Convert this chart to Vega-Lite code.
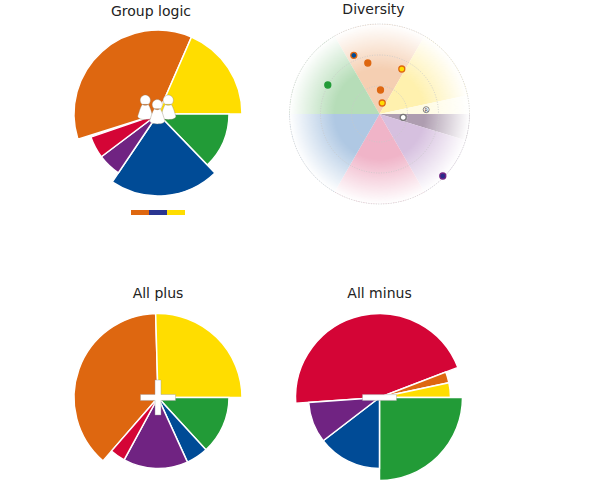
{
"$schema":"https://vega.github.io/schema/vega-lite/v6.json",
"background":"white",
"padding":{"left":68,"top":3,"right":0,"bottom":0},
"columns":2,
"spacing":{"column":39.5,"row":71.5},
"config":{"view":{"stroke":null},"title":{"font":"DejaVu Sans","fontSize":14,"fontWeight":"normal","color":"#222222","offset":5,"anchor":"middle"},"text":{"font":"DejaVu Sans"}},
"datasets":{
"logic":[
{"group":"Orange","start":252.5,"end":383.5,"r":84},
{"group":"Yellow","start":23.5,"end":90,"r":84},
{"group":"Green","start":90,"end":136,"r":71},
{"group":"Blue","start":136,"end":214,"r":82},
{"group":"Purple","start":214,"end":233,"r":71},
{"group":"Red","start":233,"end":251,"r":71}],
"plus":[
{"group":"Orange","start":221,"end":358.4,"r":84},
{"group":"Yellow","start":358.4,"end":450,"r":84},
{"group":"Green","start":90,"end":137.5,"r":71},
{"group":"Blue","start":137.5,"end":155.5,"r":71},
{"group":"Purple","start":155.5,"end":208.5,"r":71},
{"group":"Red","start":208.5,"end":221,"r":71}],
"minus":[
{"group":"Red","start":266,"end":429,"r":84},
{"group":"Orange","start":69,"end":78,"r":71},
{"group":"Yellow","start":78,"end":90,"r":71},
{"group":"Green","start":90,"end":180,"r":83},
{"group":"Blue","start":180,"end":232.5,"r":71},
{"group":"Purple","start":232.5,"end":266,"r":71}],
"sectors":[
{"group":"Orange","start":330,"end":390},
{"group":"Yellow","start":30,"end":78},
{"group":"Pale","start":78,"end":90},
{"group":"Grey","start":90,"end":107},
{"group":"Purple","start":107,"end":150},
{"group":"Red","start":150,"end":210},
{"group":"Blue","start":210,"end":270},
{"group":"Green","start":270,"end":330}],
"dots":[
{"name":"a","fill":"Blue","line":"Orange","x":-25.7,"y":58.7},
{"name":"b","fill":"Orange","line":"Orange","x":-11.7,"y":51},
{"name":"c","fill":"Yellow","line":"Orange","x":22.3,"y":45},
{"name":"d","fill":"Orange","line":"Orange","x":1,"y":24},
{"name":"e","fill":"Yellow","line":"Orange","x":2.7,"y":11},
{"name":"f","fill":"Green","line":"Green","x":-51.7,"y":29},
{"name":"g","fill":"White","line":"Grey","x":23.7,"y":-3.3},
{"name":"h","fill":"Navy","line":"Purple","x":63.3,"y":-62}]
},
"concat":[
{"title":{"text":"Group logic","dx":-7},"width":180,"height":180,
"resolve":{"scale":{"color":"independent"}},
"layer":[
{"data":{"name":"logic"},"mark":{"type":"arc","stroke":"white","strokeWidth":1.5},
"encoding":{
"theta":{"field":"start","type":"quantitative","stack":null,"scale":{"domain":[0,360],"range":[0,6.2832]}},
"theta2":{"field":"end"},
"radius":{"field":"r","type":"quantitative","scale":{"type":"linear","domain":[0,90],"range":[0,90]}},
"color":{"field":"group","type":"nominal","legend":null,"scale":{"domain":["Orange","Yellow","Green","Blue","Purple","Red"],"range":["#DE6710","#FFDD00","#229B37","#004B96","#702382","#D40536"]}}}},
{"data":{"values":[{"seg":"Orange","from":-27,"to":-9,"low":-96,"high":-101},{"seg":"Navy","from":-9,"to":9,"low":-96,"high":-101},{"seg":"Yellow","from":9,"to":27,"low":-96,"high":-101}]},
"mark":{"type":"rect"},
"encoding":{
"x":{"field":"from","type":"quantitative","axis":null,"scale":{"domain":[-90,90]}},
"x2":{"field":"to"},
"y":{"field":"low","type":"quantitative","axis":null,"scale":{"domain":[-90,90]}},
"y2":{"field":"high"},
"color":{"field":"seg","type":"nominal","legend":null,"scale":{"domain":["Orange","Navy","Yellow"],"range":["#DE6710","#2A3590","#FFDD00"]}}}},
{"data":{"values":[{"who":"left","x":-12.7,"y":6.7},{"who":"right","x":10.3,"y":6.7},{"who":"centre","x":-0.7,"y":2.3}]},
"mark":{"type":"point","filled":true,"fill":"white","stroke":"#8a7a66","strokeWidth":0.6,"strokeOpacity":0.6,"opacity":1,"size":600,"shape":"M0,-1 A0.42,0.42 0 1 1 0,-0.16 A0.42,0.42 0 1 1 0,-1 Z M-0.24,-0.24 C-0.42,0 -0.5,0.4 -0.62,0.72 C-0.62,0.9 -0.4,1 0,1 C0.4,1 0.62,0.9 0.62,0.72 C0.5,0.4 0.42,0 0.24,-0.24 Z"},
"encoding":{
"x":{"field":"x","type":"quantitative","axis":null,"scale":{"domain":[-90,90]}},
"y":{"field":"y","type":"quantitative","axis":null,"scale":{"domain":[-90,90]}}}}
]},
{"title":{"text":"Diversity","dx":-6},"width":180,"height":180,
"resolve":{"scale":{"color":"independent","fill":"independent","stroke":"independent"}},
"layer":[
{"data":{"name":"sectors"},"mark":{"type":"arc"},
"encoding":{
"theta":{"field":"start","type":"quantitative","stack":null,"scale":{"domain":[0,360],"range":[0,6.2832]}},
"theta2":{"field":"end"},
"radius":{"datum":90,"type":"quantitative","scale":{"type":"linear","domain":[0,90],"range":[0,90]}},
"color":{"field":"group","type":"nominal","legend":null,"scale":{"domain":["Orange","Yellow","Pale","Grey","Purple","Red","Blue","Green"],"range":["#F5CFB2","#FFF1AE","#FFFBE2","#AE9DB0","#D6C0DF","#F0B4C8","#AFC8E3","#B6DDB8"]}}}},
{"data":{"values":[{"ring":"fade","start":0,"end":360}]},
"mark":{"type":"arc","fill":{"gradient":"radial","x1":0.5,"y1":0.5,"r1":0,"x2":0.5,"y2":0.5,"r2":0.5,"stops":[{"offset":0,"color":"rgba(255,255,255,0)"},{"offset":0.5,"color":"rgba(255,255,255,0)"},{"offset":1,"color":"rgba(255,255,255,1)"}]}},
"encoding":{
"theta":{"field":"start","type":"quantitative","stack":null,"scale":{"domain":[0,360],"range":[0,6.2832]}},
"theta2":{"field":"end"},
"radius":{"datum":90,"type":"quantitative","scale":{"type":"linear","domain":[0,90],"range":[0,90]}}}},
{"data":{"values":[{"r":28,"start":0,"end":360},{"r":59,"start":0,"end":360},{"r":90,"start":0,"end":360}]},
"mark":{"type":"arc","fillOpacity":0,"stroke":"#C8C8C8","strokeWidth":0.8,"strokeDash":[1,1.5]},
"encoding":{
"theta":{"field":"start","type":"quantitative","stack":null,"scale":{"domain":[0,360],"range":[0,6.2832]}},
"theta2":{"field":"end"},
"radius":{"field":"r","type":"quantitative","scale":{"type":"linear","domain":[0,90],"range":[0,90]}}}},
{"data":{"name":"dots"},"mark":{"type":"point","filled":true,"shape":"circle","size":36,"strokeWidth":1.3,"opacity":1},
"encoding":{
"x":{"field":"x","type":"quantitative","axis":null,"scale":{"domain":[-90,90]}},
"y":{"field":"y","type":"quantitative","axis":null,"scale":{"domain":[-90,90]}},
"fill":{"field":"fill","type":"nominal","legend":null,"scale":{"domain":["Orange","Yellow","Blue","Green","White","Navy"],"range":["#DE6710","#FFDD00","#004B96","#229B37","#FFFFFF","#2A2A8A"]}},
"stroke":{"field":"line","type":"nominal","legend":null,"scale":{"domain":["Orange","Green","Grey","Purple"],"range":["#DE6710","#229B37","#777777","#702382"]}}}},
{"data":{"values":[{"x":46.7,"y":4.3,"mark":"R"}]},"mark":{"type":"point","filled":true,"fill":"white","stroke":"#666666","strokeWidth":0.8,"shape":"circle","size":36,"opacity":1},
"encoding":{
"x":{"field":"x","type":"quantitative","axis":null,"scale":{"domain":[-90,90]}},
"y":{"field":"y","type":"quantitative","axis":null,"scale":{"domain":[-90,90]}}}},
{"data":{"values":[{"x":46.7,"y":4.3,"mark":"R"}]},"mark":{"type":"text","fontSize":5,"color":"#444444","align":"center","baseline":"middle"},
"encoding":{
"x":{"field":"x","type":"quantitative","axis":null,"scale":{"domain":[-90,90]}},
"y":{"field":"y","type":"quantitative","axis":null,"scale":{"domain":[-90,90]}},
"text":{"field":"mark"}}}
]},
{"title":{"text":"All plus","offset":7},"width":180,"height":180,
"layer":[
{"data":{"name":"plus"},"mark":{"type":"arc","stroke":"white","strokeWidth":1.5},
"encoding":{
"theta":{"field":"start","type":"quantitative","stack":null,"scale":{"domain":[0,360],"range":[0,6.2832]}},
"theta2":{"field":"end"},
"radius":{"field":"r","type":"quantitative","scale":{"type":"linear","domain":[0,90],"range":[0,90]}},
"color":{"field":"group","type":"nominal","legend":null,"scale":{"domain":["Orange","Yellow","Green","Blue","Purple","Red"],"range":["#DE6710","#FFDD00","#229B37","#004B96","#702382","#D40536"]}}}},
{"data":{"values":[{"sign":"plus","x":0,"y":0}]},
"mark":{"type":"point","filled":true,"fill":"white","stroke":"#999999","strokeWidth":0.4,"opacity":1,"size":1225,"shape":"M-0.17,-1 H0.17 V-0.17 H1 V0.17 H0.17 V1 H-0.17 V0.17 H-1 V-0.17 H-0.17 Z"},
"encoding":{
"x":{"field":"x","type":"quantitative","axis":null,"scale":{"domain":[-90,90]}},
"y":{"field":"y","type":"quantitative","axis":null,"scale":{"domain":[-90,90]}}}}
]},
{"title":{"text":"All minus","offset":7},"width":180,"height":180,
"layer":[
{"data":{"name":"minus"},"mark":{"type":"arc","stroke":"white","strokeWidth":1.5},
"encoding":{
"theta":{"field":"start","type":"quantitative","stack":null,"scale":{"domain":[0,360],"range":[0,6.2832]}},
"theta2":{"field":"end"},
"radius":{"field":"r","type":"quantitative","scale":{"type":"linear","domain":[0,90],"range":[0,90]}},
"color":{"field":"group","type":"nominal","legend":null,"scale":{"domain":["Orange","Yellow","Green","Blue","Purple","Red"],"range":["#DE6710","#FFDD00","#229B37","#004B96","#702382","#D40536"]}}}},
{"data":{"values":[{"sign":"minus","x":0,"y":0}]},
"mark":{"type":"point","filled":true,"fill":"white","stroke":"#999999","strokeWidth":0.4,"opacity":1,"size":1156,"shape":"M-1,-0.17 H1 V0.17 H-1 Z"},
"encoding":{
"x":{"field":"x","type":"quantitative","axis":null,"scale":{"domain":[-90,90]}},
"y":{"field":"y","type":"quantitative","axis":null,"scale":{"domain":[-90,90]}}}}
]}
]
}
